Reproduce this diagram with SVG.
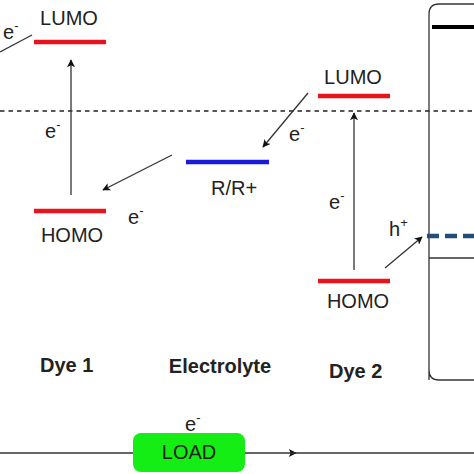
<svg xmlns="http://www.w3.org/2000/svg" width="474" height="474" viewBox="0 0 474 474">
<defs>
<style>
text{font-family:"Liberation Sans",Arial,sans-serif;fill:#222;font-size:20px}
.b{font-weight:bold;font-size:20px}
.c{text-anchor:middle}
.ln{stroke:#333;stroke-width:1.3;fill:none}
.red{stroke:#e8141c;stroke-width:4.5}
.sup{font-size:13px}
</style>
<marker id="ah" viewBox="0 0 10 10" refX="9" refY="5" markerWidth="10" markerHeight="8" markerUnits="userSpaceOnUse" orient="auto">
<path d="M0,0L10,5L0,10L2.5,5Z" fill="#111"/>
</marker>
</defs>
<rect width="474" height="474" fill="#fff"/>
<g id="reference">
<line x1="0" y1="111" x2="474" y2="111" stroke="#222" stroke-width="1.3" stroke-dasharray="4.5,4"/>
</g>
<g id="box">
<path d="M429,380 V14 Q429,4 439,4 H480 M480,380 H439 Q429,380 429,370" class="ln"/>
<line x1="432" y1="27" x2="474" y2="27" stroke="#000" stroke-width="4"/>
<line x1="427" y1="236" x2="474" y2="236" stroke="#264d7a" stroke-width="4.5" stroke-dasharray="12,6"/>
<line x1="429" y1="258" x2="474" y2="258" class="ln"/>
</g>
<g id="dye1">
<line x1="34" y1="42" x2="106" y2="42" class="red"/>
<text x="69" y="25" class="c">LUMO</text>
<line x1="34" y1="211" x2="106" y2="211" class="red"/>
<text x="72" y="242" class="c">HOMO</text>
<text x="40" y="372" class="b">Dye 1</text>
</g>
<g id="electrolyte">
<line x1="186" y1="162" x2="269" y2="162" stroke="#1a1adc" stroke-width="4.5"/>
<text x="234" y="195" class="c">R/R+</text>
<text x="220" y="373" class="b c">Electrolyte</text>
</g>
<g id="dye2">
<line x1="318" y1="96" x2="390" y2="96" class="red"/>
<text x="353" y="84" class="c">LUMO</text>
<line x1="318" y1="281" x2="390" y2="281" class="red"/>
<text x="358" y="308" class="c">HOMO</text>
<text x="329" y="378" class="b">Dye 2</text>
</g>
<g id="load">
<rect x="133" y="433" width="112" height="39" rx="8" fill="#14ee14"/>
<text x="189" y="459" class="c">LOAD</text>
</g>
<g id="connectors">
<line x1="0" y1="52" x2="32" y2="35" class="ln"/>
<line x1="71" y1="195" x2="71" y2="60" class="ln" marker-end="url(#ah)"/>
<line x1="172" y1="155" x2="103" y2="190" class="ln" marker-end="url(#ah)"/>
<line x1="308" y1="93" x2="263" y2="147" class="ln" marker-end="url(#ah)"/>
<line x1="354" y1="270" x2="354" y2="113" class="ln" marker-end="url(#ah)"/>
<line x1="385" y1="268" x2="422" y2="237" class="ln" marker-end="url(#ah)"/>
<line x1="0" y1="453" x2="133" y2="453" class="ln"/>
<line x1="245" y1="453" x2="296" y2="453" class="ln" marker-end="url(#ah)"/>
<line x1="290" y1="453" x2="474" y2="453" class="ln"/>
</g>
<g id="labels">
<text x="3" y="39">e<tspan class="sup" dy="-9">-</tspan></text>
<text x="45" y="138">e<tspan class="sup" dy="-9">-</tspan></text>
<text x="128" y="224">e<tspan class="sup" dy="-9">-</tspan></text>
<text x="289" y="141">e<tspan class="sup" dy="-9">-</tspan></text>
<text x="329" y="209">e<tspan class="sup" dy="-9">-</tspan></text>
<text x="389" y="236">h<tspan class="sup" dy="-9">+</tspan></text>
<text x="185" y="431">e<tspan class="sup" dy="-9">-</tspan></text>
</g>
</svg>
